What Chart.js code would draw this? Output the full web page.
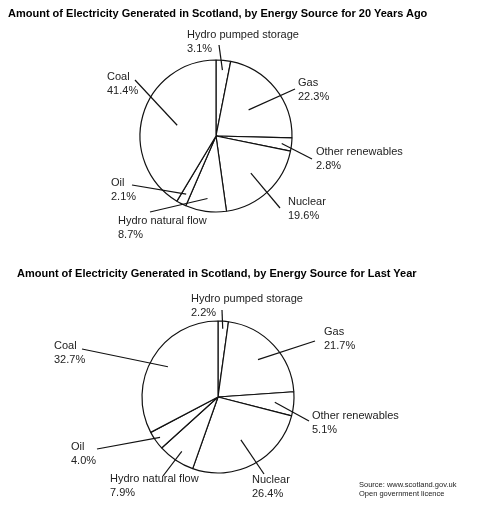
<!DOCTYPE html>
<html>
<head>
<meta charset="utf-8">
<script src="https://cdn.jsdelivr.net/npm/chart.js@4.4.0/dist/chart.umd.min.js"></script>
<style>
  body { margin: 0; background: #fff; width: 481px; height: 512px; position: relative; overflow: hidden;
         font-family: "Liberation Sans", Arial, sans-serif; }
  canvas { position: absolute; left: 0; }
  .title { position: absolute; font-weight: bold; font-size: 11px; color: #000; white-space: nowrap; z-index: 2; }
  #source { position: absolute; left: 359px; top: 480px; font-size: 7.5px; line-height: 9px; color: #222; z-index: 2; }
</style>
</head>
<body>
<canvas id="pieOld" width="481" height="250" style="top:0"></canvas>
<canvas id="pieNew" width="481" height="252" style="top:260px"></canvas>
<div class="title" style="left:8px; top:7px">Amount of Electricity Generated in Scotland, by Energy Source for 20 Years Ago</div>
<div class="title" style="left:17px; top:267px">Amount of Electricity Generated in Scotland, by Energy Source for Last Year</div>
<div id="source">Source: www.scotland.gov.uk<br>Open government licence</div>
<script>
// energy sources, clockwise from 12 o'clock
const categories = ["Hydro pumped storage", "Gas", "Other renewables", "Nuclear", "Hydro natural flow", "Oil", "Coal"];
const shares20YearsAgo = [3.1, 22.3, 2.8, 19.6, 8.7, 2.1, 41.4];
const sharesLastYear = [2.2, 21.7, 5.1, 26.4, 7.9, 4.0, 32.7];

// label placement relative to pie centre: text = first line, end = outer end of leader,
// depth = how far into the slice the leader reaches (fraction of radius)
const calloutsOld = [
    { text: [-29, -101], end: [3, -91], depth: 0.87 },
    { text: [82, -53], end: [79, -47], depth: 0.55 },
    { text: [100, 16], end: [96, 23], depth: 0.87 },
    { text: [72, 66], end: [64, 72], depth: 0.67 },
    { text: [-98, 85], end: [-66, 76], depth: 0.83 },
    { text: [-105, 47], end: [-84, 49], depth: 0.86 },
    { text: [-109, -59], end: [-81, -56], depth: 0.53 },
];
const calloutsNew = [
    { text: [-27, -98], end: [4, -87], depth: 0.9 },
    { text: [106, -65], end: [97, -56], depth: 0.72 },
    { text: [94, 19], end: [91, 24], depth: 0.75 },
    { text: [34, 83], end: [46, 77], depth: 0.64 },
    { text: [-108, 82], end: [-55, 79], depth: 0.86 },
    { text: [-147, 50], end: [-121, 52], depth: 0.93 },
    { text: [-164, -51], end: [-136, -48], depth: 0.77 },
];

function makeCallouts(layout) {
    return {
        id: "callouts",
        afterDatasetsDraw(chart) {
            const ctx = chart.ctx;
            const arcs = chart.getDatasetMeta(0).data;
            const values = chart.data.datasets[0].data;
            ctx.save();
            ctx.strokeStyle = "#111";
            ctx.lineWidth = 1.2;
            ctx.fillStyle = "#222";
            ctx.font = '11px "Liberation Sans", Arial, sans-serif';
            ctx.textAlign = "left";
            ctx.textBaseline = "middle";
            arcs.forEach((arc, i) => {
                const p = arc.getProps(["x", "y", "startAngle", "endAngle", "outerRadius"], true);
                const mid = (p.startAngle + p.endAngle) / 2;
                const c = layout[i];
                ctx.beginPath();
                ctx.moveTo(p.x + Math.cos(mid) * p.outerRadius * c.depth, p.y + Math.sin(mid) * p.outerRadius * c.depth);
                ctx.lineTo(p.x + c.end[0], p.y + c.end[1]);
                ctx.stroke();
                ctx.fillText(chart.data.labels[i], p.x + c.text[0], p.y + c.text[1]);
                ctx.fillText(values[i].toFixed(1) + "%", p.x + c.text[0], p.y + c.text[1] + 13.5);
            });
            ctx.restore();
        }
    };
}

function drawPie(id, values, layout, padding) {
    return new Chart(document.getElementById(id), {
        type: "pie",
        data: {
            labels: categories,
            datasets: [{
                data: values,
                backgroundColor: "#ffffff",
                borderColor: "#111111",
                borderWidth: 1.2,
            }],
        },
        options: {
            responsive: false,
            animation: false,
            events: [],
            radius: 76,
            layout: { padding: padding },
            plugins: {
                legend: { display: false },
                tooltip: { enabled: false },
            },
        },
        plugins: [makeCallouts(layout)],
    });
}

drawPie("pieOld", shares20YearsAgo, calloutsOld, { left: 136, right: 185, top: 56, bottom: 34 });
drawPie("pieNew", sharesLastYear, calloutsNew, { left: 138, right: 183, top: 57, bottom: 35 });
</script>
</body>
</html>
